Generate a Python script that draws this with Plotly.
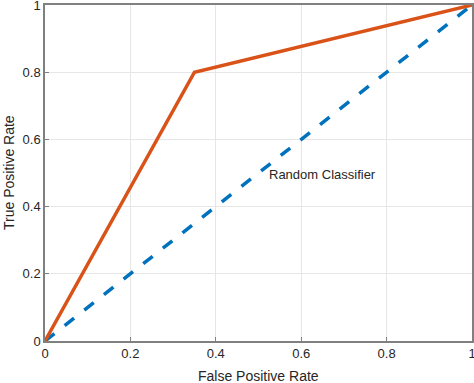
import plotly.graph_objects as go

roc_fpr = [0, 0.35, 1]
roc_tpr = [0, 0.8, 1]
rand_fpr = [0, 1]
rand_tpr = [0, 1]
tick_vals = [0, 0.2, 0.4, 0.6, 0.8, 1]
tick_text = ["0", "0.2", "0.4", "0.6", "0.8", "1"]

FONT = "Liberation Sans, Arial, sans-serif"

fig = go.Figure()
fig.add_trace(go.Scatter(x=rand_fpr, y=rand_tpr, mode="lines",
                         line=dict(color="#0072BD", width=3.5, dash="12px,13px"),
                         showlegend=False, cliponaxis=False))
fig.add_trace(go.Scatter(x=roc_fpr, y=roc_tpr, mode="lines",
                         line=dict(color="#D95319", width=3.5),
                         showlegend=False, cliponaxis=False))
fig.add_annotation(x=0.65, y=0.497, text="Random Classifier", showarrow=False,
                   font=dict(family=FONT, size=13, color="#262626"))
fig.add_annotation(xref="paper", yref="paper", x=0.5, y=-0.104,
                   text="False Positive Rate", showarrow=False,
                   xanchor="center", yanchor="middle",
                   font=dict(family=FONT, size=14, color="#262626"))
fig.add_annotation(xref="paper", yref="paper", x=-0.0843, y=0.5,
                   text="True Positive Rate", showarrow=False, textangle=-90,
                   xanchor="center", yanchor="middle",
                   font=dict(family=FONT, size=14, color="#262626"))

axis_common = dict(range=[0, 1], tickvals=tick_vals, ticktext=tick_text,
                   showgrid=True, gridcolor="#e6e6e6", gridwidth=1,
                   showline=True, linecolor="#808080", linewidth=1.5, mirror=True,
                   ticks="inside", ticklen=4, tickcolor="#808080",
                   tickfont=dict(family=FONT, size=13, color="#262626"),
                   ticklabeloverflow="allow", automargin=False,
                   zeroline=False)

fig.update_layout(
    width=474, height=383,
    margin=dict(l=45, r=2, t=5, b=42),
    paper_bgcolor="white", plot_bgcolor="white",
    xaxis=dict(**axis_common),
    yaxis=dict(**axis_common),
)
fig.write_html("out.html", config={"displayModeBar": False},
               post_script="document.body.style.margin='0';document.body.style.overflow='hidden';")
